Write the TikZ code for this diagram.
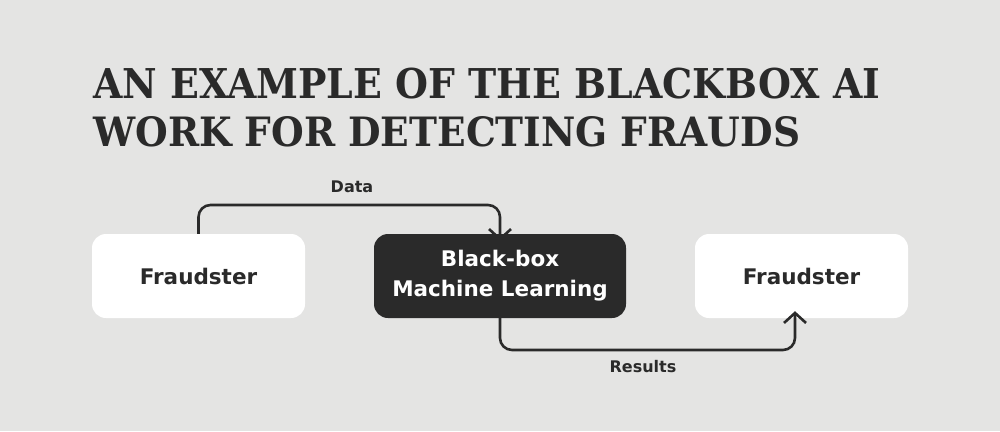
\documentclass[tikz,border=0pt]{standalone}
\usepackage{fontspec}
\setmainfont{DejaVu Sans}
\newfontfamily\titlefont{DejaVu Serif}
\usetikzlibrary{arrows.meta}
\definecolor{bg}{HTML}{E4E4E3}
\definecolor{ink}{HTML}{2A2A2A}
\tikzset{
  card/.style={rounded corners=14pt, minimum width=#1, minimum height=84pt, inner sep=0pt, align=center, font=\bfseries\fontsize{21.5}{30}\selectfont},
  whitecard/.style={card=#1, fill=white, text=ink},
  blackcard/.style={card=#1, fill=ink, text=white},
  flow/.style={draw=ink, line width=2.6pt, -{Straight Barb[length=10pt,width=22pt,line width=2.6pt]}},
  lbl/.style={text=ink, font=\bfseries\fontsize{16}{18}\selectfont},
  ttl/.style={anchor=base west, inner sep=0pt, text=ink, font=\titlefont\bfseries\fontsize{42.5}{50}\selectfont}
}
\begin{document}
\begin{tikzpicture}[x=1pt,y=-1pt]
\fill[bg] (0,0) rectangle (1000,431);
\useasboundingbox (0,0) rectangle (1000,431);
\node[ttl] (t1) at (93,98) {\resizebox{787pt}{30.5pt}{AN EXAMPLE OF THE BLACKBOX AI}};
\node[ttl] (t2) at (93,146) {\resizebox{707pt}{30pt}{WORK FOR DETECTING FRAUDS}};
\node[whitecard=213pt] (f1) at (198.5,276) {Fraudster};
\node[blackcard=252pt] (bb) at (500,276) {Black-box\\Machine Learning};
\node[whitecard=213pt] (f2) at (801.5,276) {Fraudster};
\coordinate (d1) at (198.5,205);
\coordinate (r1) at (795,350);
\draw[flow] (f1.north) [rounded corners=12pt] -- (d1) -- (d1 -| bb.north) [sharp corners] -- ([yshift=-7pt]bb.north);
\draw[flow] (bb.south) [rounded corners=12pt] -- (bb.south |- r1) -- (r1) [sharp corners] -- ([yshift=7pt]f2.south -| r1);
\node[lbl] (dl) at (352,187) {Data};
\node[lbl] (rl) at (643,367) {Results};
\end{tikzpicture}
\end{document}
